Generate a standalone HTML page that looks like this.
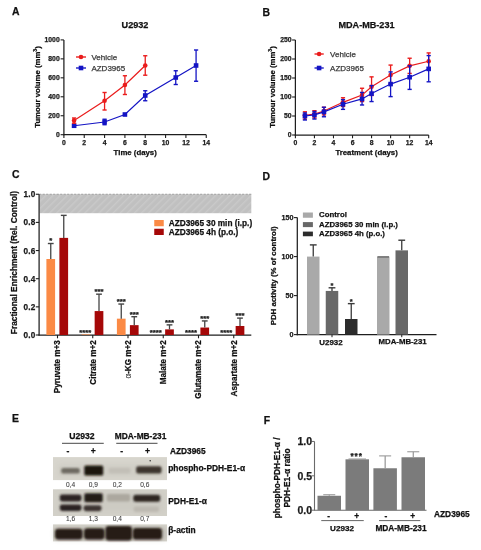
<!DOCTYPE html>
<html><head><meta charset="utf-8"><title>Figure</title>
<style>
html,body{margin:0;padding:0;background:#fff;}
body{width:481px;height:550px;overflow:hidden;}
svg{display:block;font-family:"Liberation Sans", sans-serif;filter:blur(0.4px);}
</style></head><body>
<svg width="481" height="550" viewBox="0 0 481 550">
<defs>
<pattern id="hatch" width="5" height="5" patternUnits="userSpaceOnUse" patternTransform="rotate(45)">
<rect width="5" height="5" fill="#c0c0c0"/><rect width="1.5" height="5" fill="#c9c9c9"/>
</pattern>
<filter id="b0" x="-100%" y="-100%" width="300%" height="300%"><feGaussianBlur stdDeviation="0.4"/></filter>
<filter id="b1" x="-30%" y="-80%" width="160%" height="260%"><feGaussianBlur stdDeviation="0.85"/></filter>
<filter id="b2" x="-30%" y="-80%" width="160%" height="260%"><feGaussianBlur stdDeviation="2"/></filter>
</defs>
<rect width="481" height="550" fill="#fff"/>
<text x="12.00" y="15.00" font-size="10.4" font-weight="bold" text-anchor="start" fill="#111" stroke="#111" stroke-width="0.25" >A</text>
<text x="262.60" y="15.60" font-size="10.4" font-weight="bold" text-anchor="start" fill="#111" stroke="#111" stroke-width="0.25" >B</text>
<text x="12.00" y="178.00" font-size="10.4" font-weight="bold" text-anchor="start" fill="#111" stroke="#111" stroke-width="0.25" >C</text>
<text x="262.60" y="180.00" font-size="10.4" font-weight="bold" text-anchor="start" fill="#111" stroke="#111" stroke-width="0.25" >D</text>
<text x="12.00" y="422.00" font-size="10.4" font-weight="bold" text-anchor="start" fill="#111" stroke="#111" stroke-width="0.25" >E</text>
<text x="263.70" y="423.60" font-size="10.4" font-weight="bold" text-anchor="start" fill="#111" stroke="#111" stroke-width="0.25" >F</text>
<text x="135.00" y="28.40" font-size="9.1" font-weight="bold" text-anchor="middle" fill="#111" stroke="#111" stroke-width="0.25" >U2932</text>
<line x1="63.90" y1="39.90" x2="63.90" y2="135.30" stroke="#1e1e1e" stroke-width="1.25" />
<line x1="63.30" y1="134.70" x2="206.25" y2="134.70" stroke="#1e1e1e" stroke-width="1.25" />
<line x1="60.60" y1="134.70" x2="63.90" y2="134.70" stroke="#1e1e1e" stroke-width="1.1" />
<text x="59.70" y="137.10" font-size="6.8" font-weight="bold" text-anchor="end" fill="#1a1a1a" stroke="#1a1a1a" stroke-width="0.25" >0</text>
<line x1="60.60" y1="115.74" x2="63.90" y2="115.74" stroke="#1e1e1e" stroke-width="1.1" />
<text x="59.70" y="118.14" font-size="6.8" font-weight="bold" text-anchor="end" fill="#1a1a1a" stroke="#1a1a1a" stroke-width="0.25" >200</text>
<line x1="60.60" y1="96.78" x2="63.90" y2="96.78" stroke="#1e1e1e" stroke-width="1.1" />
<text x="59.70" y="99.18" font-size="6.8" font-weight="bold" text-anchor="end" fill="#1a1a1a" stroke="#1a1a1a" stroke-width="0.25" >400</text>
<line x1="60.60" y1="77.82" x2="63.90" y2="77.82" stroke="#1e1e1e" stroke-width="1.1" />
<text x="59.70" y="80.22" font-size="6.8" font-weight="bold" text-anchor="end" fill="#1a1a1a" stroke="#1a1a1a" stroke-width="0.25" >600</text>
<line x1="60.60" y1="58.86" x2="63.90" y2="58.86" stroke="#1e1e1e" stroke-width="1.1" />
<text x="59.70" y="61.26" font-size="6.8" font-weight="bold" text-anchor="end" fill="#1a1a1a" stroke="#1a1a1a" stroke-width="0.25" >800</text>
<line x1="60.60" y1="39.90" x2="63.90" y2="39.90" stroke="#1e1e1e" stroke-width="1.1" />
<text x="59.70" y="42.30" font-size="6.8" font-weight="bold" text-anchor="end" fill="#1a1a1a" stroke="#1a1a1a" stroke-width="0.25" >1000</text>
<line x1="63.90" y1="134.70" x2="63.90" y2="138.00" stroke="#1e1e1e" stroke-width="1.1" />
<text x="63.90" y="145.20" font-size="6.8" font-weight="bold" text-anchor="middle" fill="#1a1a1a" stroke="#1a1a1a" stroke-width="0.25" >0</text>
<line x1="84.24" y1="134.70" x2="84.24" y2="138.00" stroke="#1e1e1e" stroke-width="1.1" />
<text x="84.24" y="145.20" font-size="6.8" font-weight="bold" text-anchor="middle" fill="#1a1a1a" stroke="#1a1a1a" stroke-width="0.25" >2</text>
<line x1="104.57" y1="134.70" x2="104.57" y2="138.00" stroke="#1e1e1e" stroke-width="1.1" />
<text x="104.57" y="145.20" font-size="6.8" font-weight="bold" text-anchor="middle" fill="#1a1a1a" stroke="#1a1a1a" stroke-width="0.25" >4</text>
<line x1="124.91" y1="134.70" x2="124.91" y2="138.00" stroke="#1e1e1e" stroke-width="1.1" />
<text x="124.91" y="145.20" font-size="6.8" font-weight="bold" text-anchor="middle" fill="#1a1a1a" stroke="#1a1a1a" stroke-width="0.25" >6</text>
<line x1="145.24" y1="134.70" x2="145.24" y2="138.00" stroke="#1e1e1e" stroke-width="1.1" />
<text x="145.24" y="145.20" font-size="6.8" font-weight="bold" text-anchor="middle" fill="#1a1a1a" stroke="#1a1a1a" stroke-width="0.25" >8</text>
<line x1="165.58" y1="134.70" x2="165.58" y2="138.00" stroke="#1e1e1e" stroke-width="1.1" />
<text x="165.58" y="145.20" font-size="6.8" font-weight="bold" text-anchor="middle" fill="#1a1a1a" stroke="#1a1a1a" stroke-width="0.25" >10</text>
<line x1="185.92" y1="134.70" x2="185.92" y2="138.00" stroke="#1e1e1e" stroke-width="1.1" />
<text x="185.92" y="145.20" font-size="6.8" font-weight="bold" text-anchor="middle" fill="#1a1a1a" stroke="#1a1a1a" stroke-width="0.25" >12</text>
<line x1="206.25" y1="134.70" x2="206.25" y2="138.00" stroke="#1e1e1e" stroke-width="1.1" />
<text x="206.25" y="145.20" font-size="6.8" font-weight="bold" text-anchor="middle" fill="#1a1a1a" stroke="#1a1a1a" stroke-width="0.25" >14</text>
<text x="135.20" y="155.20" font-size="7.8" font-weight="bold" text-anchor="middle" fill="#111" stroke="#111" stroke-width="0.25" >Time (days)</text>
<text x="0" y="0" font-size="7.75" font-weight="bold" text-anchor="middle" fill="#111" stroke="#111" stroke-width="0.25" transform="translate(40.20,87.00) rotate(-90)" >Tumour volume (mm<tspan font-size="5.2" dy="-3">3</tspan><tspan dy="3">)</tspan></text>
<path d="M74.07,125.75 L104.57,122.00 L124.91,114.50 L145.24,95.50 L175.75,77.50 L196.08,65.50" fill="none" stroke="#1414c4" stroke-width="1.2"/>
<line x1="74.07" y1="124.50" x2="74.07" y2="127.00" stroke="#1414c4" stroke-width="1.3" />
<line x1="71.97" y1="124.50" x2="76.17" y2="124.50" stroke="#1414c4" stroke-width="1.4" />
<line x1="71.97" y1="127.00" x2="76.17" y2="127.00" stroke="#1414c4" stroke-width="1.4" />
<rect x="71.77" y="123.45" width="4.60" height="4.60" fill="#1414c4" />
<line x1="104.57" y1="119.25" x2="104.57" y2="124.70" stroke="#1414c4" stroke-width="1.3" />
<line x1="102.47" y1="119.25" x2="106.67" y2="119.25" stroke="#1414c4" stroke-width="1.4" />
<line x1="102.47" y1="124.70" x2="106.67" y2="124.70" stroke="#1414c4" stroke-width="1.4" />
<rect x="102.27" y="119.70" width="4.60" height="4.60" fill="#1414c4" />
<rect x="122.61" y="112.20" width="4.60" height="4.60" fill="#1414c4" />
<line x1="145.24" y1="90.75" x2="145.24" y2="100.75" stroke="#1414c4" stroke-width="1.3" />
<line x1="143.14" y1="90.75" x2="147.34" y2="90.75" stroke="#1414c4" stroke-width="1.4" />
<line x1="143.14" y1="100.75" x2="147.34" y2="100.75" stroke="#1414c4" stroke-width="1.4" />
<rect x="142.94" y="93.20" width="4.60" height="4.60" fill="#1414c4" />
<line x1="175.75" y1="70.75" x2="175.75" y2="84.50" stroke="#1414c4" stroke-width="1.3" />
<line x1="173.65" y1="70.75" x2="177.85" y2="70.75" stroke="#1414c4" stroke-width="1.4" />
<line x1="173.65" y1="84.50" x2="177.85" y2="84.50" stroke="#1414c4" stroke-width="1.4" />
<rect x="173.45" y="75.20" width="4.60" height="4.60" fill="#1414c4" />
<line x1="196.08" y1="50.00" x2="196.08" y2="81.25" stroke="#1414c4" stroke-width="1.3" />
<line x1="193.98" y1="50.00" x2="198.18" y2="50.00" stroke="#1414c4" stroke-width="1.4" />
<line x1="193.98" y1="81.25" x2="198.18" y2="81.25" stroke="#1414c4" stroke-width="1.4" />
<rect x="193.78" y="63.20" width="4.60" height="4.60" fill="#1414c4" />
<path d="M74.07,120.50 L104.57,100.75 L124.91,85.00 L145.24,65.50" fill="none" stroke="#ea1c1c" stroke-width="1.2"/>
<line x1="74.07" y1="118.00" x2="74.07" y2="123.20" stroke="#ea1c1c" stroke-width="1.3" />
<line x1="71.97" y1="118.00" x2="76.17" y2="118.00" stroke="#ea1c1c" stroke-width="1.4" />
<line x1="71.97" y1="123.20" x2="76.17" y2="123.20" stroke="#ea1c1c" stroke-width="1.4" />
<circle cx="74.07" cy="120.50" r="2.3" fill="#ea1c1c"/>
<line x1="104.57" y1="92.50" x2="104.57" y2="110.00" stroke="#ea1c1c" stroke-width="1.3" />
<line x1="102.47" y1="92.50" x2="106.67" y2="92.50" stroke="#ea1c1c" stroke-width="1.4" />
<line x1="102.47" y1="110.00" x2="106.67" y2="110.00" stroke="#ea1c1c" stroke-width="1.4" />
<circle cx="104.57" cy="100.75" r="2.3" fill="#ea1c1c"/>
<line x1="124.91" y1="75.75" x2="124.91" y2="94.50" stroke="#ea1c1c" stroke-width="1.3" />
<line x1="122.81" y1="75.75" x2="127.01" y2="75.75" stroke="#ea1c1c" stroke-width="1.4" />
<line x1="122.81" y1="94.50" x2="127.01" y2="94.50" stroke="#ea1c1c" stroke-width="1.4" />
<circle cx="124.91" cy="85.00" r="2.3" fill="#ea1c1c"/>
<line x1="145.24" y1="55.75" x2="145.24" y2="75.20" stroke="#ea1c1c" stroke-width="1.3" />
<line x1="143.14" y1="55.75" x2="147.34" y2="55.75" stroke="#ea1c1c" stroke-width="1.4" />
<line x1="143.14" y1="75.20" x2="147.34" y2="75.20" stroke="#ea1c1c" stroke-width="1.4" />
<circle cx="145.24" cy="65.50" r="2.3" fill="#ea1c1c"/>
<line x1="76.00" y1="57.00" x2="86.00" y2="57.00" stroke="#ea1c1c" stroke-width="1.35" />
<circle cx="81" cy="57" r="2.3" fill="#ea1c1c"/>
<line x1="76.00" y1="68.00" x2="86.00" y2="68.00" stroke="#1414c4" stroke-width="1.35" />
<rect x="78.70" y="65.70" width="4.60" height="4.60" fill="#1414c4" />
<text x="91.40" y="59.90" font-size="8.0"  text-anchor="start" fill="#3a3a3a" stroke="#3a3a3a" stroke-width="0.25" >Vehicle</text>
<text x="91.40" y="70.90" font-size="8.0"  text-anchor="start" fill="#3a3a3a" stroke="#3a3a3a" stroke-width="0.25" >AZD3965</text>
<text x="366.50" y="28.40" font-size="9.1" font-weight="bold" text-anchor="middle" fill="#111" stroke="#111" stroke-width="0.25" >MDA-MB-231</text>
<line x1="295.40" y1="40.00" x2="295.40" y2="135.60" stroke="#1e1e1e" stroke-width="1.25" />
<line x1="294.80" y1="135.00" x2="428.68" y2="135.00" stroke="#1e1e1e" stroke-width="1.25" />
<line x1="292.10" y1="135.00" x2="295.40" y2="135.00" stroke="#1e1e1e" stroke-width="1.1" />
<text x="291.60" y="137.40" font-size="6.8" font-weight="bold" text-anchor="end" fill="#1a1a1a" stroke="#1a1a1a" stroke-width="0.25" >0</text>
<line x1="292.10" y1="116.00" x2="295.40" y2="116.00" stroke="#1e1e1e" stroke-width="1.1" />
<text x="291.60" y="118.40" font-size="6.8" font-weight="bold" text-anchor="end" fill="#1a1a1a" stroke="#1a1a1a" stroke-width="0.25" >50</text>
<line x1="292.10" y1="97.00" x2="295.40" y2="97.00" stroke="#1e1e1e" stroke-width="1.1" />
<text x="291.60" y="99.40" font-size="6.8" font-weight="bold" text-anchor="end" fill="#1a1a1a" stroke="#1a1a1a" stroke-width="0.25" >100</text>
<line x1="292.10" y1="78.00" x2="295.40" y2="78.00" stroke="#1e1e1e" stroke-width="1.1" />
<text x="291.60" y="80.40" font-size="6.8" font-weight="bold" text-anchor="end" fill="#1a1a1a" stroke="#1a1a1a" stroke-width="0.25" >150</text>
<line x1="292.10" y1="59.00" x2="295.40" y2="59.00" stroke="#1e1e1e" stroke-width="1.1" />
<text x="291.60" y="61.40" font-size="6.8" font-weight="bold" text-anchor="end" fill="#1a1a1a" stroke="#1a1a1a" stroke-width="0.25" >200</text>
<line x1="292.10" y1="40.00" x2="295.40" y2="40.00" stroke="#1e1e1e" stroke-width="1.1" />
<text x="291.60" y="42.40" font-size="6.8" font-weight="bold" text-anchor="end" fill="#1a1a1a" stroke="#1a1a1a" stroke-width="0.25" >250</text>
<line x1="295.40" y1="135.00" x2="295.40" y2="138.30" stroke="#1e1e1e" stroke-width="1.1" />
<text x="295.40" y="145.40" font-size="6.8" font-weight="bold" text-anchor="middle" fill="#1a1a1a" stroke="#1a1a1a" stroke-width="0.25" >0</text>
<line x1="314.44" y1="135.00" x2="314.44" y2="138.30" stroke="#1e1e1e" stroke-width="1.1" />
<text x="314.44" y="145.40" font-size="6.8" font-weight="bold" text-anchor="middle" fill="#1a1a1a" stroke="#1a1a1a" stroke-width="0.25" >2</text>
<line x1="333.48" y1="135.00" x2="333.48" y2="138.30" stroke="#1e1e1e" stroke-width="1.1" />
<text x="333.48" y="145.40" font-size="6.8" font-weight="bold" text-anchor="middle" fill="#1a1a1a" stroke="#1a1a1a" stroke-width="0.25" >4</text>
<line x1="352.52" y1="135.00" x2="352.52" y2="138.30" stroke="#1e1e1e" stroke-width="1.1" />
<text x="352.52" y="145.40" font-size="6.8" font-weight="bold" text-anchor="middle" fill="#1a1a1a" stroke="#1a1a1a" stroke-width="0.25" >6</text>
<line x1="371.56" y1="135.00" x2="371.56" y2="138.30" stroke="#1e1e1e" stroke-width="1.1" />
<text x="371.56" y="145.40" font-size="6.8" font-weight="bold" text-anchor="middle" fill="#1a1a1a" stroke="#1a1a1a" stroke-width="0.25" >8</text>
<line x1="390.60" y1="135.00" x2="390.60" y2="138.30" stroke="#1e1e1e" stroke-width="1.1" />
<text x="390.60" y="145.40" font-size="6.8" font-weight="bold" text-anchor="middle" fill="#1a1a1a" stroke="#1a1a1a" stroke-width="0.25" >10</text>
<line x1="409.64" y1="135.00" x2="409.64" y2="138.30" stroke="#1e1e1e" stroke-width="1.1" />
<text x="409.64" y="145.40" font-size="6.8" font-weight="bold" text-anchor="middle" fill="#1a1a1a" stroke="#1a1a1a" stroke-width="0.25" >12</text>
<line x1="428.68" y1="135.00" x2="428.68" y2="138.30" stroke="#1e1e1e" stroke-width="1.1" />
<text x="428.68" y="145.40" font-size="6.8" font-weight="bold" text-anchor="middle" fill="#1a1a1a" stroke="#1a1a1a" stroke-width="0.25" >14</text>
<text x="366.60" y="155.00" font-size="7.8" font-weight="bold" text-anchor="middle" fill="#111" stroke="#111" stroke-width="0.25" >Treatment (days)</text>
<text x="0" y="0" font-size="7.75" font-weight="bold" text-anchor="middle" fill="#111" stroke="#111" stroke-width="0.25" transform="translate(275.40,87.00) rotate(-90)" >Tumour volume (mm<tspan font-size="5.2" dy="-3">3</tspan><tspan dy="3">)</tspan></text>
<path d="M304.92,115.24 L314.44,114.10 L323.96,111.06 L343.00,102.32 L362.04,95.10 L371.56,86.74 L390.60,74.96 L409.64,65.84 L428.68,61.28" fill="none" stroke="#ea1c1c" stroke-width="1.2"/>
<line x1="304.92" y1="111.82" x2="304.92" y2="119.04" stroke="#ea1c1c" stroke-width="1.3" />
<line x1="302.82" y1="111.82" x2="307.02" y2="111.82" stroke="#ea1c1c" stroke-width="1.4" />
<line x1="302.82" y1="119.04" x2="307.02" y2="119.04" stroke="#ea1c1c" stroke-width="1.4" />
<circle cx="304.92" cy="115.24" r="2.3" fill="#ea1c1c"/>
<line x1="314.44" y1="110.68" x2="314.44" y2="117.90" stroke="#ea1c1c" stroke-width="1.3" />
<line x1="312.34" y1="110.68" x2="316.54" y2="110.68" stroke="#ea1c1c" stroke-width="1.4" />
<line x1="312.34" y1="117.90" x2="316.54" y2="117.90" stroke="#ea1c1c" stroke-width="1.4" />
<circle cx="314.44" cy="114.10" r="2.3" fill="#ea1c1c"/>
<line x1="323.96" y1="107.26" x2="323.96" y2="114.86" stroke="#ea1c1c" stroke-width="1.3" />
<line x1="321.86" y1="107.26" x2="326.06" y2="107.26" stroke="#ea1c1c" stroke-width="1.4" />
<line x1="321.86" y1="114.86" x2="326.06" y2="114.86" stroke="#ea1c1c" stroke-width="1.4" />
<circle cx="323.96" cy="111.06" r="2.3" fill="#ea1c1c"/>
<line x1="343.00" y1="97.76" x2="343.00" y2="106.50" stroke="#ea1c1c" stroke-width="1.3" />
<line x1="340.90" y1="97.76" x2="345.10" y2="97.76" stroke="#ea1c1c" stroke-width="1.4" />
<line x1="340.90" y1="106.50" x2="345.10" y2="106.50" stroke="#ea1c1c" stroke-width="1.4" />
<circle cx="343.00" cy="102.32" r="2.3" fill="#ea1c1c"/>
<line x1="362.04" y1="88.26" x2="362.04" y2="101.56" stroke="#ea1c1c" stroke-width="1.3" />
<line x1="359.94" y1="88.26" x2="364.14" y2="88.26" stroke="#ea1c1c" stroke-width="1.4" />
<line x1="359.94" y1="101.56" x2="364.14" y2="101.56" stroke="#ea1c1c" stroke-width="1.4" />
<circle cx="362.04" cy="95.10" r="2.3" fill="#ea1c1c"/>
<line x1="371.56" y1="76.86" x2="371.56" y2="95.48" stroke="#ea1c1c" stroke-width="1.3" />
<line x1="369.46" y1="76.86" x2="373.66" y2="76.86" stroke="#ea1c1c" stroke-width="1.4" />
<line x1="369.46" y1="95.48" x2="373.66" y2="95.48" stroke="#ea1c1c" stroke-width="1.4" />
<circle cx="371.56" cy="86.74" r="2.3" fill="#ea1c1c"/>
<line x1="390.60" y1="65.08" x2="390.60" y2="83.70" stroke="#ea1c1c" stroke-width="1.3" />
<line x1="388.50" y1="65.08" x2="392.70" y2="65.08" stroke="#ea1c1c" stroke-width="1.4" />
<line x1="388.50" y1="83.70" x2="392.70" y2="83.70" stroke="#ea1c1c" stroke-width="1.4" />
<circle cx="390.60" cy="74.96" r="2.3" fill="#ea1c1c"/>
<line x1="409.64" y1="58.24" x2="409.64" y2="73.44" stroke="#ea1c1c" stroke-width="1.3" />
<line x1="407.54" y1="58.24" x2="411.74" y2="58.24" stroke="#ea1c1c" stroke-width="1.4" />
<line x1="407.54" y1="73.44" x2="411.74" y2="73.44" stroke="#ea1c1c" stroke-width="1.4" />
<circle cx="409.64" cy="65.84" r="2.3" fill="#ea1c1c"/>
<line x1="428.68" y1="52.92" x2="428.68" y2="69.64" stroke="#ea1c1c" stroke-width="1.3" />
<line x1="426.58" y1="52.92" x2="430.78" y2="52.92" stroke="#ea1c1c" stroke-width="1.4" />
<line x1="426.58" y1="69.64" x2="430.78" y2="69.64" stroke="#ea1c1c" stroke-width="1.4" />
<circle cx="428.68" cy="61.28" r="2.3" fill="#ea1c1c"/>
<path d="M304.92,116.00 L314.44,114.86 L323.96,111.82 L343.00,104.22 L362.04,98.90 L371.56,93.58 L390.60,84.08 L409.64,77.24 L428.68,68.88" fill="none" stroke="#1414c4" stroke-width="1.2"/>
<line x1="304.92" y1="112.96" x2="304.92" y2="119.99" stroke="#1414c4" stroke-width="1.3" />
<line x1="302.82" y1="112.96" x2="307.02" y2="112.96" stroke="#1414c4" stroke-width="1.4" />
<line x1="302.82" y1="119.99" x2="307.02" y2="119.99" stroke="#1414c4" stroke-width="1.4" />
<rect x="302.62" y="113.70" width="4.60" height="4.60" fill="#1414c4" />
<line x1="314.44" y1="111.44" x2="314.44" y2="119.04" stroke="#1414c4" stroke-width="1.3" />
<line x1="312.34" y1="111.44" x2="316.54" y2="111.44" stroke="#1414c4" stroke-width="1.4" />
<line x1="312.34" y1="119.04" x2="316.54" y2="119.04" stroke="#1414c4" stroke-width="1.4" />
<rect x="312.14" y="112.56" width="4.60" height="4.60" fill="#1414c4" />
<line x1="323.96" y1="107.26" x2="323.96" y2="116.76" stroke="#1414c4" stroke-width="1.3" />
<line x1="321.86" y1="107.26" x2="326.06" y2="107.26" stroke="#1414c4" stroke-width="1.4" />
<line x1="321.86" y1="116.76" x2="326.06" y2="116.76" stroke="#1414c4" stroke-width="1.4" />
<rect x="321.66" y="109.52" width="4.60" height="4.60" fill="#1414c4" />
<line x1="343.00" y1="99.66" x2="343.00" y2="109.35" stroke="#1414c4" stroke-width="1.3" />
<line x1="340.90" y1="99.66" x2="345.10" y2="99.66" stroke="#1414c4" stroke-width="1.4" />
<line x1="340.90" y1="109.35" x2="345.10" y2="109.35" stroke="#1414c4" stroke-width="1.4" />
<rect x="340.70" y="101.92" width="4.60" height="4.60" fill="#1414c4" />
<line x1="362.04" y1="92.44" x2="362.04" y2="104.98" stroke="#1414c4" stroke-width="1.3" />
<line x1="359.94" y1="92.44" x2="364.14" y2="92.44" stroke="#1414c4" stroke-width="1.4" />
<line x1="359.94" y1="104.98" x2="364.14" y2="104.98" stroke="#1414c4" stroke-width="1.4" />
<rect x="359.74" y="96.60" width="4.60" height="4.60" fill="#1414c4" />
<line x1="371.56" y1="85.60" x2="371.56" y2="101.56" stroke="#1414c4" stroke-width="1.3" />
<line x1="369.46" y1="85.60" x2="373.66" y2="85.60" stroke="#1414c4" stroke-width="1.4" />
<line x1="369.46" y1="101.56" x2="373.66" y2="101.56" stroke="#1414c4" stroke-width="1.4" />
<rect x="369.26" y="91.28" width="4.60" height="4.60" fill="#1414c4" />
<line x1="390.60" y1="71.92" x2="390.60" y2="96.62" stroke="#1414c4" stroke-width="1.3" />
<line x1="388.50" y1="71.92" x2="392.70" y2="71.92" stroke="#1414c4" stroke-width="1.4" />
<line x1="388.50" y1="96.62" x2="392.70" y2="96.62" stroke="#1414c4" stroke-width="1.4" />
<rect x="388.30" y="81.78" width="4.60" height="4.60" fill="#1414c4" />
<line x1="409.64" y1="65.84" x2="409.64" y2="89.40" stroke="#1414c4" stroke-width="1.3" />
<line x1="407.54" y1="65.84" x2="411.74" y2="65.84" stroke="#1414c4" stroke-width="1.4" />
<line x1="407.54" y1="89.40" x2="411.74" y2="89.40" stroke="#1414c4" stroke-width="1.4" />
<rect x="407.34" y="74.94" width="4.60" height="4.60" fill="#1414c4" />
<line x1="428.68" y1="55.58" x2="428.68" y2="81.80" stroke="#1414c4" stroke-width="1.3" />
<line x1="426.58" y1="55.58" x2="430.78" y2="55.58" stroke="#1414c4" stroke-width="1.4" />
<line x1="426.58" y1="81.80" x2="430.78" y2="81.80" stroke="#1414c4" stroke-width="1.4" />
<rect x="426.38" y="66.58" width="4.60" height="4.60" fill="#1414c4" />
<line x1="314.50" y1="54.00" x2="323.75" y2="54.00" stroke="#ea1c1c" stroke-width="1.35" />
<circle cx="319.1" cy="54" r="2.3" fill="#ea1c1c"/>
<line x1="314.50" y1="68.00" x2="323.75" y2="68.00" stroke="#1414c4" stroke-width="1.35" />
<rect x="316.80" y="65.70" width="4.60" height="4.60" fill="#1414c4" />
<text x="330.10" y="56.70" font-size="8.0"  text-anchor="start" fill="#3a3a3a" stroke="#3a3a3a" stroke-width="0.25" >Vehicle</text>
<text x="330.10" y="70.60" font-size="8.0"  text-anchor="start" fill="#3a3a3a" stroke="#3a3a3a" stroke-width="0.25" >AZD3965</text>
<rect x="39.70" y="194.25" width="211.60" height="18.95" fill="url(#hatch)"/>
<line x1="39.10" y1="194.25" x2="251.30" y2="194.25" stroke="#9a9a9a" stroke-width="0.9" stroke-dasharray="2.2,1.3"/>
<line x1="39.10" y1="194.25" x2="39.10" y2="335.60" stroke="#1e1e1e" stroke-width="1.25" />
<line x1="38.50" y1="335.00" x2="251.30" y2="335.00" stroke="#1e1e1e" stroke-width="1.25" />
<line x1="35.80" y1="335.00" x2="39.10" y2="335.00" stroke="#1e1e1e" stroke-width="1.1" />
<text x="35.70" y="338.00" font-size="8.2" font-weight="bold" text-anchor="end" fill="#1a1a1a" stroke="#1a1a1a" stroke-width="0.25" letter-spacing="0.3">0.0</text>
<line x1="35.80" y1="306.85" x2="39.10" y2="306.85" stroke="#1e1e1e" stroke-width="1.1" />
<text x="35.70" y="309.85" font-size="8.2" font-weight="bold" text-anchor="end" fill="#1a1a1a" stroke="#1a1a1a" stroke-width="0.25" letter-spacing="0.3">0.2</text>
<line x1="35.80" y1="278.70" x2="39.10" y2="278.70" stroke="#1e1e1e" stroke-width="1.1" />
<text x="35.70" y="281.70" font-size="8.2" font-weight="bold" text-anchor="end" fill="#1a1a1a" stroke="#1a1a1a" stroke-width="0.25" letter-spacing="0.3">0.4</text>
<line x1="35.80" y1="250.55" x2="39.10" y2="250.55" stroke="#1e1e1e" stroke-width="1.1" />
<text x="35.70" y="253.55" font-size="8.2" font-weight="bold" text-anchor="end" fill="#1a1a1a" stroke="#1a1a1a" stroke-width="0.25" letter-spacing="0.3">0.6</text>
<line x1="35.80" y1="222.40" x2="39.10" y2="222.40" stroke="#1e1e1e" stroke-width="1.1" />
<text x="35.70" y="225.40" font-size="8.2" font-weight="bold" text-anchor="end" fill="#1a1a1a" stroke="#1a1a1a" stroke-width="0.25" letter-spacing="0.3">0.8</text>
<line x1="35.80" y1="194.25" x2="39.10" y2="194.25" stroke="#1e1e1e" stroke-width="1.1" />
<text x="35.70" y="197.25" font-size="8.2" font-weight="bold" text-anchor="end" fill="#1a1a1a" stroke="#1a1a1a" stroke-width="0.25" letter-spacing="0.3">1.0</text>
<text x="0" y="0" font-size="8.35" font-weight="bold" text-anchor="middle" fill="#111" stroke="#111" stroke-width="0.25" transform="translate(16.90,262.50) rotate(-90)" >Fractional Enrichment (Rel. Control)</text>
<line x1="57.50" y1="335.00" x2="57.50" y2="338.30" stroke="#1e1e1e" stroke-width="1.1" />
<rect x="46.40" y="259.00" width="8.70" height="76.00" fill="#fb8a45" />
<line x1="50.75" y1="243.51" x2="50.75" y2="259.00" stroke="#454545" stroke-width="1.3" />
<line x1="47.85" y1="243.51" x2="53.65" y2="243.51" stroke="#454545" stroke-width="1.4" />
<text x="50.75" y="243.48" font-size="7.7" font-weight="bold" text-anchor="middle" fill="#1a1a1a" stroke="#1a1a1a" stroke-width="0.25" >*</text>
<rect x="59.40" y="237.88" width="8.70" height="97.12" fill="#a50808" />
<line x1="63.75" y1="215.36" x2="63.75" y2="237.88" stroke="#454545" stroke-width="1.3" />
<line x1="60.85" y1="215.36" x2="66.65" y2="215.36" stroke="#454545" stroke-width="1.4" />
<text x="0" y="0" font-size="8.15" font-weight="bold" text-anchor="end" fill="#111" stroke="#111" stroke-width="0.25" transform="translate(60.40,340.20) rotate(-90)" >Pyruvate m+3</text>
<line x1="92.75" y1="335.00" x2="92.75" y2="338.30" stroke="#1e1e1e" stroke-width="1.1" />
<rect x="81.65" y="334.44" width="8.70" height="0.56" fill="#fb8a45" />
<text x="85.15" y="335.27" font-size="7.7" font-weight="bold" text-anchor="middle" fill="#1a1a1a" stroke="#1a1a1a" stroke-width="0.25" >****</text>
<rect x="94.65" y="311.07" width="8.70" height="23.93" fill="#a50808" />
<line x1="99.00" y1="294.18" x2="99.00" y2="311.07" stroke="#454545" stroke-width="1.3" />
<line x1="96.10" y1="294.18" x2="101.90" y2="294.18" stroke="#454545" stroke-width="1.4" />
<text x="99.00" y="294.15" font-size="7.7" font-weight="bold" text-anchor="middle" fill="#1a1a1a" stroke="#1a1a1a" stroke-width="0.25" >***</text>
<text x="0" y="0" font-size="8.15" font-weight="bold" text-anchor="end" fill="#111" stroke="#111" stroke-width="0.25" transform="translate(95.65,340.20) rotate(-90)" >Citrate m+2</text>
<line x1="128.00" y1="335.00" x2="128.00" y2="338.30" stroke="#1e1e1e" stroke-width="1.1" />
<rect x="116.90" y="318.67" width="8.70" height="16.33" fill="#fb8a45" />
<line x1="121.25" y1="304.04" x2="121.25" y2="318.67" stroke="#454545" stroke-width="1.3" />
<line x1="118.35" y1="304.04" x2="124.15" y2="304.04" stroke="#454545" stroke-width="1.4" />
<text x="121.25" y="304.00" font-size="7.7" font-weight="bold" text-anchor="middle" fill="#1a1a1a" stroke="#1a1a1a" stroke-width="0.25" >***</text>
<rect x="129.90" y="325.15" width="8.70" height="9.85" fill="#a50808" />
<line x1="134.25" y1="316.70" x2="134.25" y2="325.15" stroke="#454545" stroke-width="1.3" />
<line x1="131.35" y1="316.70" x2="137.15" y2="316.70" stroke="#454545" stroke-width="1.4" />
<text x="134.25" y="316.67" font-size="7.7" font-weight="bold" text-anchor="middle" fill="#1a1a1a" stroke="#1a1a1a" stroke-width="0.25" >***</text>
<text x="0" y="0" font-size="8.15" font-weight="bold" text-anchor="end" fill="#111" stroke="#111" stroke-width="0.25" transform="translate(130.90,340.20) rotate(-90)" ><tspan font-weight="normal" stroke-width="0">α</tspan>-KG m+2</text>
<line x1="163.25" y1="335.00" x2="163.25" y2="338.30" stroke="#1e1e1e" stroke-width="1.1" />
<text x="155.65" y="335.27" font-size="7.7" font-weight="bold" text-anchor="middle" fill="#1a1a1a" stroke="#1a1a1a" stroke-width="0.25" >****</text>
<rect x="165.15" y="329.37" width="8.70" height="5.63" fill="#a50808" />
<line x1="169.50" y1="324.87" x2="169.50" y2="329.37" stroke="#454545" stroke-width="1.3" />
<line x1="166.60" y1="324.87" x2="172.40" y2="324.87" stroke="#454545" stroke-width="1.4" />
<text x="169.50" y="324.83" font-size="7.7" font-weight="bold" text-anchor="middle" fill="#1a1a1a" stroke="#1a1a1a" stroke-width="0.25" >***</text>
<text x="0" y="0" font-size="8.15" font-weight="bold" text-anchor="end" fill="#111" stroke="#111" stroke-width="0.25" transform="translate(166.15,340.20) rotate(-90)" >Malate m+2</text>
<line x1="198.50" y1="335.00" x2="198.50" y2="338.30" stroke="#1e1e1e" stroke-width="1.1" />
<text x="190.90" y="335.27" font-size="7.7" font-weight="bold" text-anchor="middle" fill="#1a1a1a" stroke="#1a1a1a" stroke-width="0.25" >****</text>
<rect x="200.40" y="327.54" width="8.70" height="7.46" fill="#a50808" />
<line x1="204.75" y1="320.93" x2="204.75" y2="327.54" stroke="#454545" stroke-width="1.3" />
<line x1="201.85" y1="320.93" x2="207.65" y2="320.93" stroke="#454545" stroke-width="1.4" />
<text x="204.75" y="320.89" font-size="7.7" font-weight="bold" text-anchor="middle" fill="#1a1a1a" stroke="#1a1a1a" stroke-width="0.25" >***</text>
<text x="0" y="0" font-size="8.15" font-weight="bold" text-anchor="end" fill="#111" stroke="#111" stroke-width="0.25" transform="translate(201.40,340.20) rotate(-90)" >Glutamate m+2</text>
<line x1="233.75" y1="335.00" x2="233.75" y2="338.30" stroke="#1e1e1e" stroke-width="1.1" />
<text x="226.15" y="335.27" font-size="7.7" font-weight="bold" text-anchor="middle" fill="#1a1a1a" stroke="#1a1a1a" stroke-width="0.25" >****</text>
<rect x="235.65" y="325.99" width="8.70" height="9.01" fill="#a50808" />
<line x1="240.00" y1="318.11" x2="240.00" y2="325.99" stroke="#454545" stroke-width="1.3" />
<line x1="237.10" y1="318.11" x2="242.90" y2="318.11" stroke="#454545" stroke-width="1.4" />
<text x="240.00" y="318.08" font-size="7.7" font-weight="bold" text-anchor="middle" fill="#1a1a1a" stroke="#1a1a1a" stroke-width="0.25" >***</text>
<text x="0" y="0" font-size="8.15" font-weight="bold" text-anchor="end" fill="#111" stroke="#111" stroke-width="0.25" transform="translate(236.65,340.20) rotate(-90)" >Aspartate m+2</text>
<rect x="154.25" y="220.00" width="9.50" height="6.25" fill="#fb8a45" />
<rect x="154.25" y="228.75" width="9.50" height="6.25" fill="#a50808" />
<text x="168.70" y="226.10" font-size="8.25" font-weight="bold" text-anchor="start" fill="#111" stroke="#111" stroke-width="0.25" >AZD3965 30 min (i.p.)</text>
<text x="168.70" y="235.10" font-size="8.25" font-weight="bold" text-anchor="start" fill="#111" stroke="#111" stroke-width="0.25" >AZD3965 4h (p.o.)</text>
<line x1="297.30" y1="217.60" x2="297.30" y2="335.20" stroke="#1e1e1e" stroke-width="1.25" />
<line x1="296.70" y1="334.60" x2="436.50" y2="334.60" stroke="#1e1e1e" stroke-width="1.25" />
<line x1="294.00" y1="334.60" x2="297.30" y2="334.60" stroke="#1e1e1e" stroke-width="1.1" />
<text x="293.60" y="336.80" font-size="7.2" font-weight="bold" text-anchor="end" fill="#1a1a1a" stroke="#1a1a1a" stroke-width="0.25" >0</text>
<line x1="294.00" y1="295.60" x2="297.30" y2="295.60" stroke="#1e1e1e" stroke-width="1.1" />
<text x="293.60" y="297.80" font-size="7.2" font-weight="bold" text-anchor="end" fill="#1a1a1a" stroke="#1a1a1a" stroke-width="0.25" >50</text>
<line x1="294.00" y1="256.60" x2="297.30" y2="256.60" stroke="#1e1e1e" stroke-width="1.1" />
<text x="293.60" y="258.80" font-size="7.2" font-weight="bold" text-anchor="end" fill="#1a1a1a" stroke="#1a1a1a" stroke-width="0.25" >100</text>
<line x1="294.00" y1="217.60" x2="297.30" y2="217.60" stroke="#1e1e1e" stroke-width="1.1" />
<text x="293.60" y="219.80" font-size="7.2" font-weight="bold" text-anchor="end" fill="#1a1a1a" stroke="#1a1a1a" stroke-width="0.25" >150</text>
<text x="0" y="0" font-size="7.9" font-weight="bold" text-anchor="middle" fill="#111" stroke="#111" stroke-width="0.25" transform="translate(276.10,275.80) rotate(-90)" >PDH activity (% of control)</text>
<rect x="307.00" y="256.60" width="12.50" height="78.00" fill="#a9a9a9" />
<line x1="313.25" y1="244.90" x2="313.25" y2="256.60" stroke="#3a3a3a" stroke-width="1.3" />
<line x1="309.85" y1="244.90" x2="316.65" y2="244.90" stroke="#3a3a3a" stroke-width="1.4" />
<rect x="325.75" y="290.92" width="12.50" height="43.68" fill="#686868" />
<line x1="332.00" y1="287.80" x2="332.00" y2="290.92" stroke="#3a3a3a" stroke-width="1.3" />
<line x1="328.60" y1="287.80" x2="335.40" y2="287.80" stroke="#3a3a3a" stroke-width="1.4" />
<text x="332.00" y="288.17" font-size="7.5" font-weight="bold" text-anchor="middle" fill="#1a1a1a" stroke="#1a1a1a" stroke-width="0.25" >*</text>
<rect x="345.00" y="319.00" width="12.50" height="15.60" fill="#2c2c2c" />
<line x1="351.25" y1="303.63" x2="351.25" y2="319.00" stroke="#3a3a3a" stroke-width="1.3" />
<line x1="347.85" y1="303.63" x2="354.65" y2="303.63" stroke="#3a3a3a" stroke-width="1.4" />
<text x="351.25" y="304.00" font-size="7.5" font-weight="bold" text-anchor="middle" fill="#1a1a1a" stroke="#1a1a1a" stroke-width="0.25" >*</text>
<rect x="377.00" y="256.60" width="12.50" height="78.00" fill="#a9a9a9" />
<line x1="377.50" y1="256.90" x2="389.00" y2="256.90" stroke="#333" stroke-width="0.9" />
<rect x="395.50" y="250.36" width="12.50" height="84.24" fill="#686868" />
<line x1="401.75" y1="240.22" x2="401.75" y2="250.36" stroke="#3a3a3a" stroke-width="1.3" />
<line x1="398.35" y1="240.22" x2="405.15" y2="240.22" stroke="#3a3a3a" stroke-width="1.4" />
<line x1="332.00" y1="334.60" x2="332.00" y2="337.20" stroke="#1e1e1e" stroke-width="1.0" />
<line x1="401.75" y1="334.60" x2="401.75" y2="337.20" stroke="#1e1e1e" stroke-width="1.0" />
<text x="331.00" y="344.80" font-size="7.9" font-weight="bold" text-anchor="middle" fill="#111" stroke="#111" stroke-width="0.25" >U2932</text>
<text x="402.60" y="344.40" font-size="7.8" font-weight="bold" text-anchor="middle" fill="#111" stroke="#111" stroke-width="0.25" >MDA-MB-231</text>
<rect x="302.90" y="212.50" width="10.00" height="5.25" fill="#a9a9a9" />
<rect x="302.90" y="222.10" width="10.00" height="5.00" fill="#686868" />
<rect x="302.90" y="231.60" width="10.00" height="4.65" fill="#2c2c2c" />
<text x="319.10" y="217.10" font-size="7.8" font-weight="bold" text-anchor="start" fill="#111" stroke="#111" stroke-width="0.25" >Control</text>
<text x="319.10" y="226.80" font-size="7.8" font-weight="bold" text-anchor="start" fill="#111" stroke="#111" stroke-width="0.25" >AZD3965 30 min (i.p.)</text>
<text x="319.10" y="236.40" font-size="7.8" font-weight="bold" text-anchor="start" fill="#111" stroke="#111" stroke-width="0.25" >AZD3965 4h (p.o.)</text>
<text x="82.00" y="439.20" font-size="8.6" font-weight="bold" text-anchor="middle" fill="#111" stroke="#111" stroke-width="0.25" >U2932</text>
<text x="140.60" y="439.20" font-size="8.35" font-weight="bold" text-anchor="middle" fill="#111" stroke="#111" stroke-width="0.25" >MDA-MB-231</text>
<line x1="62.00" y1="443.30" x2="103.75" y2="443.30" stroke="#333" stroke-width="0.9" />
<line x1="116.25" y1="443.30" x2="157.50" y2="443.30" stroke="#333" stroke-width="0.9" />
<text x="68.00" y="454.40" font-size="8.6" font-weight="bold" text-anchor="middle" fill="#111" stroke="#111" stroke-width="0.25" >-</text>
<text x="93.25" y="454.40" font-size="8.6" font-weight="bold" text-anchor="middle" fill="#111" stroke="#111" stroke-width="0.25" >+</text>
<text x="121.75" y="454.40" font-size="8.6" font-weight="bold" text-anchor="middle" fill="#111" stroke="#111" stroke-width="0.25" >-</text>
<text x="147.50" y="454.40" font-size="8.6" font-weight="bold" text-anchor="middle" fill="#111" stroke="#111" stroke-width="0.25" >+</text>
<text x="170.00" y="454.20" font-size="8.3" font-weight="bold" text-anchor="start" fill="#111" stroke="#111" stroke-width="0.25" >AZD3965</text>
<rect x="53.00" y="457.10" width="114.00" height="23.00" fill="#d7d5cd" />
<rect x="53.00" y="489.30" width="114.00" height="26.70" fill="#d2d0c8" />
<rect x="53.00" y="524.40" width="114.00" height="17.00" fill="#d4d2ca" />
<rect x="54.00" y="527.50" width="112.00" height="12.50" rx="2.60" fill="#9a958d" opacity="0.4" filter="url(#b2)"/>
<rect x="58.00" y="464.00" width="106.00" height="13.00" rx="2.60" fill="#c8c6be" opacity="0.45" filter="url(#b2)"/>
<rect x="58.00" y="492.00" width="106.00" height="20.00" rx="2.60" fill="#c4c2ba" opacity="0.3" filter="url(#b2)"/>
<rect x="61.20" y="468.00" width="18.60" height="5.60" rx="2.20" fill="#6e6a62" opacity="1" filter="url(#b1)"/>
<rect x="84.30" y="465.60" width="18.90" height="10.00" rx="1.60" fill="#1e150c" opacity="1" filter="url(#b1)"/>
<rect x="108.60" y="467.80" width="21.90" height="5.60" rx="2.20" fill="#c2bfb7" opacity="1" filter="url(#b1)"/>
<rect x="136.20" y="466.30" width="25.30" height="7.30" rx="2.00" fill="#3e362e" opacity="1" filter="url(#b1)"/>
<circle cx="150.2" cy="460.8" r="0.8" fill="#333" filter="url(#b0)"/>
<rect x="59.80" y="494.60" width="21.70" height="6.80" rx="2.40" fill="#2a2420" opacity="1" filter="url(#b1)"/>
<rect x="84.30" y="493.20" width="18.40" height="9.00" rx="1.60" fill="#221a14" opacity="1" filter="url(#b1)"/>
<rect x="106.80" y="494.00" width="23.40" height="7.60" rx="1.80" fill="#aca89f" opacity="1" filter="url(#b1)"/>
<rect x="133.30" y="494.80" width="26.90" height="7.00" rx="2.40" fill="#2e2824" opacity="1" filter="url(#b1)"/>
<rect x="59.80" y="504.60" width="21.70" height="6.40" rx="2.40" fill="#2a2420" opacity="1" filter="url(#b1)"/>
<rect x="83.60" y="505.20" width="17.90" height="6.00" rx="2.40" fill="#3c3630" opacity="1" filter="url(#b1)"/>
<rect x="133.60" y="506.60" width="25.40" height="5.40" rx="2.00" fill="#bdb9b1" opacity="1" filter="url(#b1)"/>
<rect x="55.00" y="528.80" width="27.60" height="10.60" rx="3.40" fill="#261b12" opacity="1" filter="url(#b1)"/>
<rect x="84.00" y="528.20" width="20.60" height="11.20" rx="3.40" fill="#261b12" opacity="1" filter="url(#b1)"/>
<rect x="105.40" y="526.00" width="26.60" height="14.40" rx="3.40" fill="#261b12" opacity="1" filter="url(#b1)"/>
<rect x="132.80" y="528.00" width="29.20" height="11.60" rx="3.40" fill="#261b12" opacity="1" filter="url(#b1)"/>
<text x="70.60" y="486.80" font-size="6.6"  text-anchor="middle" fill="#404040" stroke="#404040" stroke-width="0.08" >0,4</text>
<text x="93.30" y="486.80" font-size="6.6"  text-anchor="middle" fill="#404040" stroke="#404040" stroke-width="0.08" >0,9</text>
<text x="117.30" y="486.80" font-size="6.6"  text-anchor="middle" fill="#404040" stroke="#404040" stroke-width="0.08" >0,2</text>
<text x="144.80" y="486.80" font-size="6.6"  text-anchor="middle" fill="#404040" stroke="#404040" stroke-width="0.08" >0,6</text>
<text x="70.60" y="521.00" font-size="6.6"  text-anchor="middle" fill="#404040" stroke="#404040" stroke-width="0.08" >1,6</text>
<text x="93.30" y="521.00" font-size="6.6"  text-anchor="middle" fill="#404040" stroke="#404040" stroke-width="0.08" >1,3</text>
<text x="117.30" y="521.00" font-size="6.6"  text-anchor="middle" fill="#404040" stroke="#404040" stroke-width="0.08" >0,4</text>
<text x="144.80" y="521.00" font-size="6.6"  text-anchor="middle" fill="#404040" stroke="#404040" stroke-width="0.08" >0,7</text>
<text x="168.25" y="471.00" font-size="8.4" font-weight="bold" text-anchor="start" fill="#111" stroke="#111" stroke-width="0.25" >phospho-PDH-E1-α</text>
<text x="168.25" y="504.30" font-size="8.4" font-weight="bold" text-anchor="start" fill="#111" stroke="#111" stroke-width="0.25" >PDH-E1-α</text>
<text x="168.25" y="533.00" font-size="8.4" font-weight="bold" text-anchor="start" fill="#111" stroke="#111" stroke-width="0.25" >β-actin</text>
<line x1="314.50" y1="441.45" x2="314.50" y2="510.20" stroke="#6a6a6a" stroke-width="1.1" />
<line x1="314.00" y1="510.20" x2="426.50" y2="510.20" stroke="#6a6a6a" stroke-width="1.1" />
<line x1="311.70" y1="510.20" x2="314.50" y2="510.20" stroke="#6a6a6a" stroke-width="1.0" />
<text x="312.00" y="514.00" font-size="10.5" font-weight="bold" text-anchor="end" fill="#1a1a1a" stroke="#1a1a1a" stroke-width="0.25" >0.0</text>
<line x1="311.70" y1="475.82" x2="314.50" y2="475.82" stroke="#6a6a6a" stroke-width="1.0" />
<text x="312.00" y="479.62" font-size="10.5" font-weight="bold" text-anchor="end" fill="#1a1a1a" stroke="#1a1a1a" stroke-width="0.25" >0.5</text>
<line x1="311.70" y1="441.45" x2="314.50" y2="441.45" stroke="#6a6a6a" stroke-width="1.0" />
<text x="312.00" y="445.25" font-size="10.5" font-weight="bold" text-anchor="end" fill="#1a1a1a" stroke="#1a1a1a" stroke-width="0.25" >1.0</text>
<rect x="317.50" y="495.76" width="23.50" height="14.44" fill="#7b7b7b" />
<line x1="329.25" y1="494.73" x2="329.25" y2="495.76" stroke="#8c8c8c" stroke-width="1.1" />
<line x1="323.25" y1="494.73" x2="335.25" y2="494.73" stroke="#9a9a9a" stroke-width="1.1" />
<rect x="345.50" y="459.32" width="23.50" height="50.88" fill="#7b7b7b" />
<line x1="348.50" y1="458.93" x2="366.00" y2="458.93" stroke="#8a8a8a" stroke-width="0.8" />
<text x="356.70" y="459.22" font-size="8.2" font-weight="bold" text-anchor="middle" fill="#1a1a1a" stroke="#1a1a1a" stroke-width="0.25" letter-spacing="1.0">***</text>
<rect x="373.40" y="468.26" width="23.50" height="41.94" fill="#7b7b7b" />
<line x1="385.15" y1="455.89" x2="385.15" y2="468.26" stroke="#8c8c8c" stroke-width="1.1" />
<line x1="379.15" y1="455.89" x2="391.15" y2="455.89" stroke="#9a9a9a" stroke-width="1.1" />
<rect x="401.50" y="457.26" width="23.50" height="52.94" fill="#7b7b7b" />
<line x1="413.25" y1="451.76" x2="413.25" y2="457.26" stroke="#8c8c8c" stroke-width="1.1" />
<line x1="407.25" y1="451.76" x2="419.25" y2="451.76" stroke="#9a9a9a" stroke-width="1.1" />
<text x="328.75" y="519.20" font-size="8.4" font-weight="bold" text-anchor="middle" fill="#111" stroke="#111" stroke-width="0.25" >-</text>
<text x="356.75" y="519.20" font-size="8.4" font-weight="bold" text-anchor="middle" fill="#111" stroke="#111" stroke-width="0.25" >+</text>
<text x="386.00" y="519.20" font-size="8.4" font-weight="bold" text-anchor="middle" fill="#111" stroke="#111" stroke-width="0.25" >-</text>
<text x="412.75" y="519.20" font-size="8.4" font-weight="bold" text-anchor="middle" fill="#111" stroke="#111" stroke-width="0.25" >+</text>
<line x1="321.25" y1="520.60" x2="363.75" y2="520.60" stroke="#555" stroke-width="0.9" />
<line x1="379.00" y1="520.60" x2="420.25" y2="520.60" stroke="#555" stroke-width="0.9" />
<text x="342.00" y="531.20" font-size="8.1" font-weight="bold" text-anchor="middle" fill="#111" stroke="#111" stroke-width="0.25" >U2932</text>
<text x="401.00" y="531.20" font-size="8.3" font-weight="bold" text-anchor="middle" fill="#111" stroke="#111" stroke-width="0.25" >MDA-MB-231</text>
<text x="434.00" y="516.80" font-size="8.35" font-weight="bold" text-anchor="start" fill="#111" stroke="#111" stroke-width="0.25" >AZD3965</text>
<text x="0" y="0" font-size="8.3" font-weight="bold" text-anchor="middle" fill="#111" stroke="#111" stroke-width="0.25" transform="translate(280.20,477.90) rotate(-90)" >phospho-PDH-E1-α /</text>
<text x="0" y="0" font-size="8.4" font-weight="bold" text-anchor="middle" fill="#111" stroke="#111" stroke-width="0.25" transform="translate(289.60,478.00) rotate(-90)" >PDH-E1-α ratio</text>
</svg>
</body></html>
